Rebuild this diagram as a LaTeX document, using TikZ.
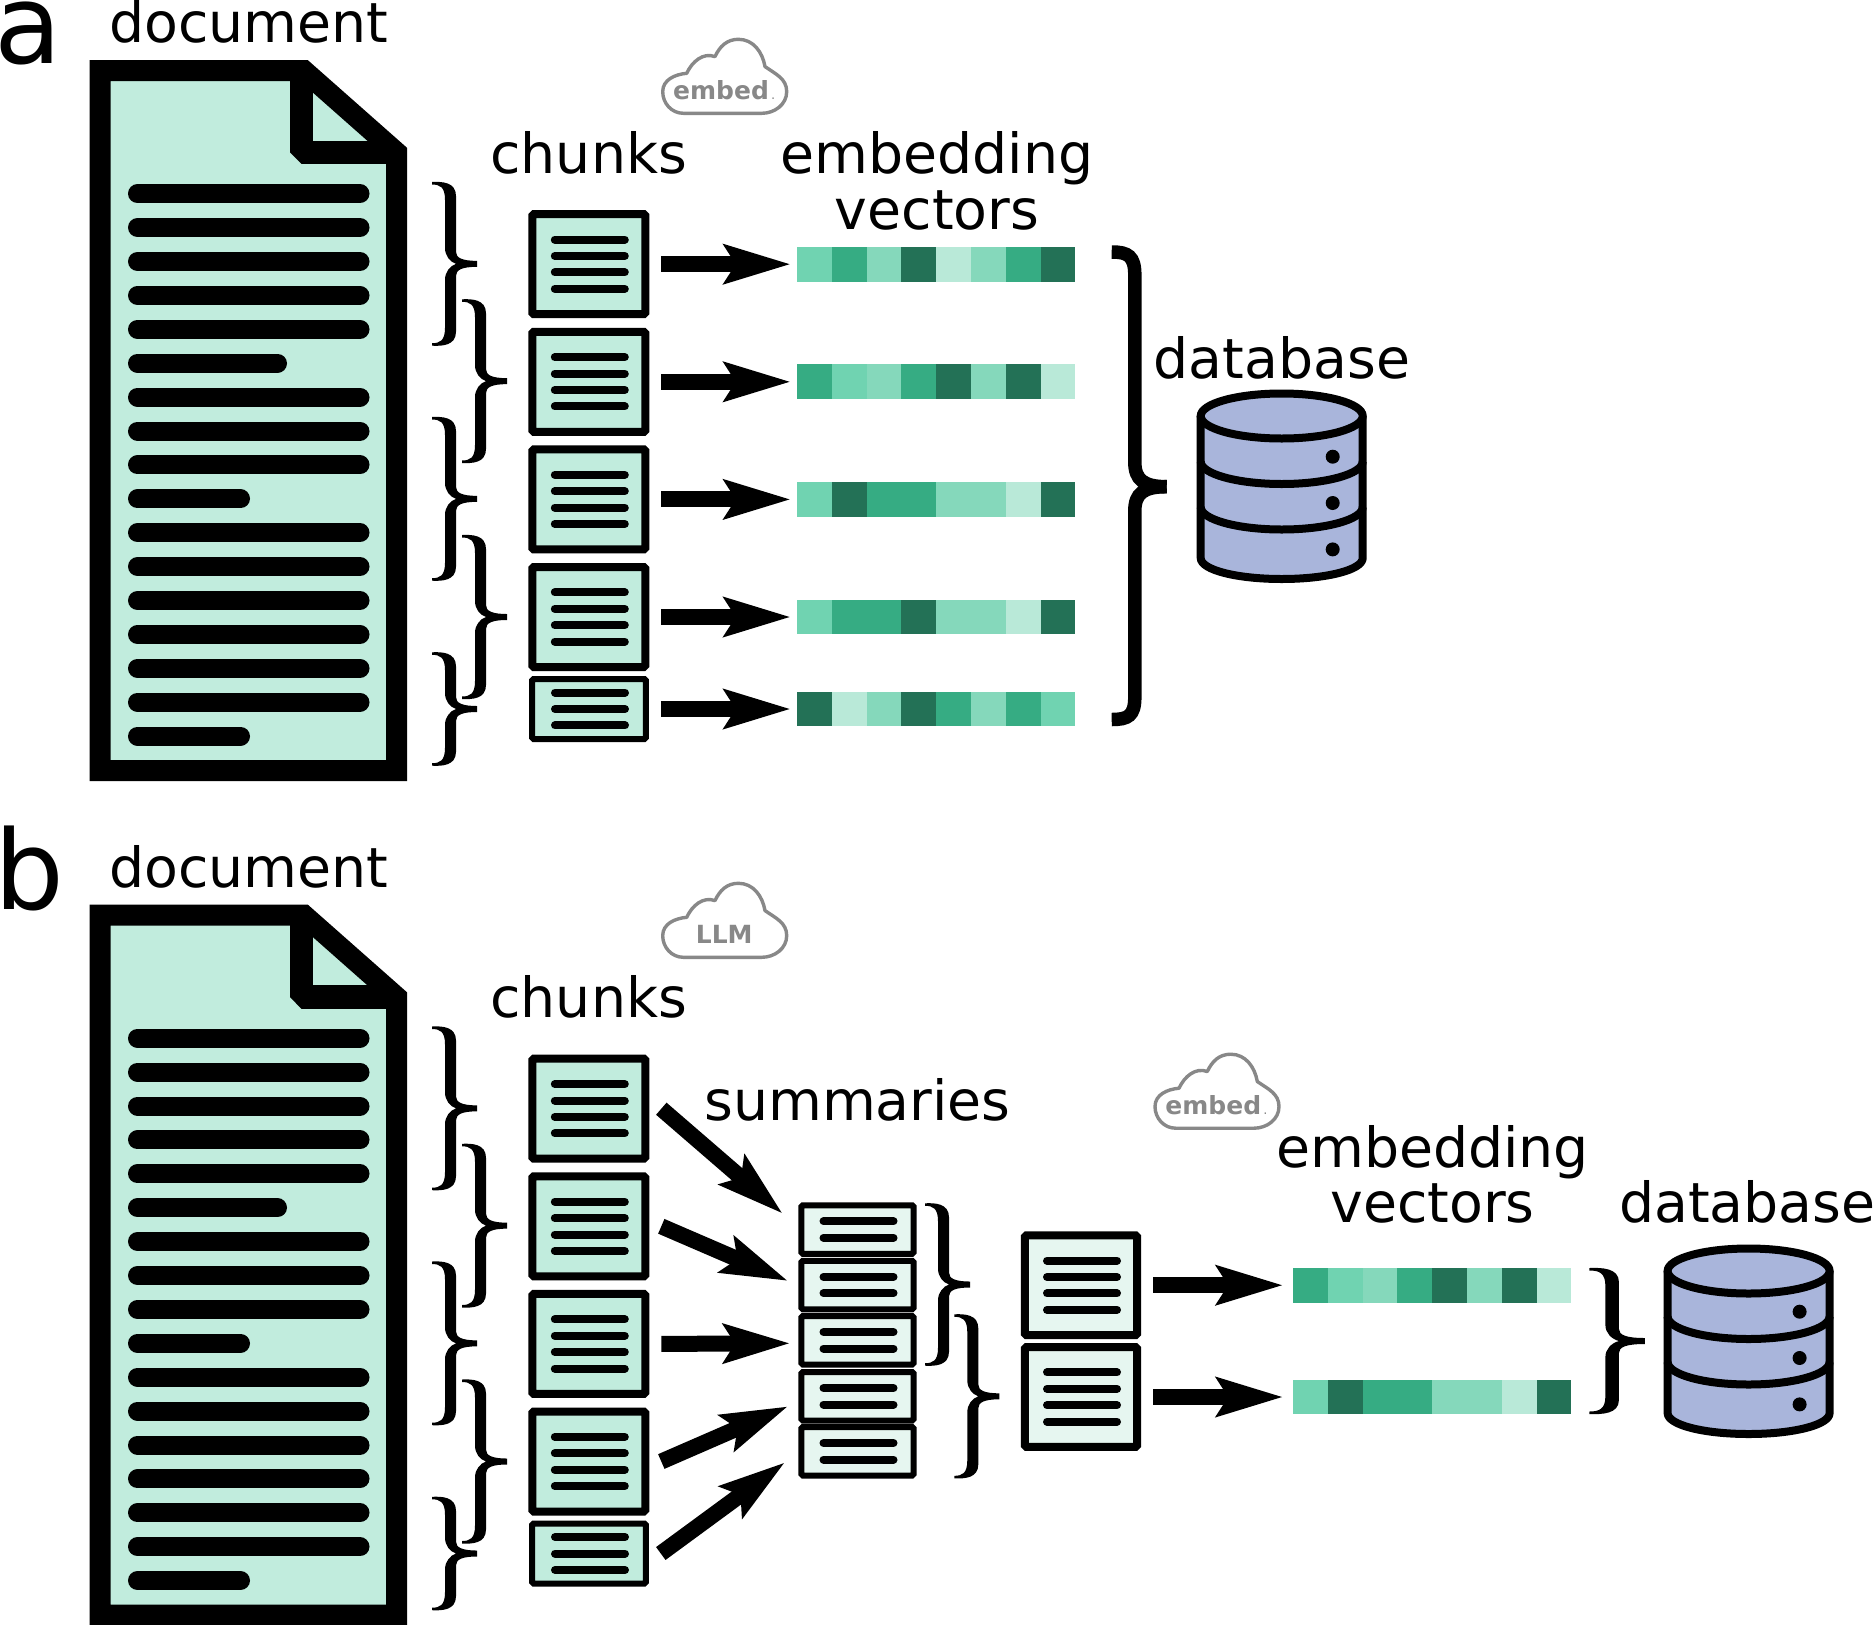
\documentclass[tikz,border=0pt]{standalone}
\usepackage{fontspec}
\setmainfont{DejaVu Sans}
\usetikzlibrary{arrows.meta}

\definecolor{pagegreen}{HTML}{C1ECDD}
\definecolor{summarygreen}{HTML}{E6F6F0}
\definecolor{dbblue}{HTML}{A9B5DB}
\definecolor{cloudgrey}{HTML}{888888}
\definecolor{vdark}{HTML}{237156}
\definecolor{vmid}{HTML}{36AC83}
\definecolor{vlight}{HTML}{70D3B1}
\definecolor{vpale}{HTML}{85D8BB}
\definecolor{vfaint}{HTML}{B9E9D8}

\newcommand{\paperlines}[2]{\foreach \dy in {#2} \draw[textline] ([shift={(-34,\dy)}]#1.center) -- ([shift={(36,\dy)}]#1.center);}
\newcommand{\embedrow}[4]{\foreach \c [count=\i] in {#4} \node[vcell, fill=\c] (#1-\i) at ({#2+34.8*(\i-0.5)},#3) {};}
\newcommand{\dbband}[1]{(-81,#1) .. controls (-81,#1+12.4) and (-44.6,#1+22.5) .. (0,#1+22.5) .. controls (44.6,#1+22.5) and (81,#1+12.4) .. (81,#1)}

\tikzset{
  biglabel/.style={font=\fontsize{55.3}{55.5}\selectfont, anchor=base, inner sep=0pt, align=center},
  panelmark/.style={font=\fontsize{110}{110}\selectfont, anchor=base west, inner sep=0pt},
  chunkbox/.style={draw, fill=pagegreen, line width=8pt, rounded corners=1.5pt, minimum width=113pt, minimum height=100pt},
  endchunk/.style={chunkbox, line width=6pt, minimum width=113.6pt, minimum height=60pt},
  summarybox/.style={draw, fill=summarygreen, line width=6pt, rounded corners=1.5pt, minimum width=112.3pt, minimum height=48.5pt},
  mergedbox/.style={chunkbox, fill=summarygreen, minimum width=112.4pt, minimum height=99.6pt},
  textline/.style={line width=8pt, line cap=round},
  vcell/.style={minimum size=34.8pt, inner sep=0pt, outer sep=0pt},
  bigarrow/.style={line width=16pt, -{Stealth[length=66pt,width=38pt,inset=11pt]}},
  pics/document/.style={code={
      \draw[line width=21pt, fill=pagegreen, line join=miter] (100,70.5) -- (303.7,70.5) -- (396.5,152.5) -- (396.5,770.5) -- (100,770.5) -- cycle;
      \draw[line width=23.5pt, line join=bevel] (301.5,70.5) -- (301.5,152.5) -- (396.5,152.5);
      \foreach \n/\xe in {0/360,1/360,2/360,3/360,4/360,5/277.5,6/360,7/360,8/360,9/240.5,10/360,11/360,12/360,13/360,14/360,15/360,16/240.5}
        \draw[line width=19pt, line cap=round] (137.5,193.7+33.9*\n) -- (\xe,193.7+33.9*\n);
  }},
  pics/curly/.style={code={
      \pgfmathsetmacro\mh{#1/2}
      \pgfmathsetmacro\hh{#1}
      \fill (0,0) .. controls (10,-0.5) and (24,0) .. (24,14) -- (24,\mh-12) .. controls (24,\mh-6) and (30,\mh-3) .. (45,\mh-3)
        -- (45,\mh+3) .. controls (30,\mh+3) and (24,\mh+6) .. (24,\mh+12) -- (24,\hh-14) .. controls (24,\hh) and (10,\hh+0.5) .. (0,\hh)
        -- (0,\hh-2.5) .. controls (8,\hh-2.5) and (13,\hh-5) .. (13,\hh-18) -- (13,\mh+16) .. controls (13,\mh+8) and (18,\mh+2) .. (24,\mh)
        .. controls (18,\mh-2) and (13,\mh-8) .. (13,\mh-16) -- (13,18) .. controls (13,5) and (8,2.5) .. (0,2.5) -- cycle;
  }},
  pics/database/.style={code={
      \fill[dbblue] (-81,0) -- \dbband{142} -- (81,0) -- cycle;
      \draw[line width=8pt, line join=round] (-81,0) -- (-81,142) .. controls (-81,154) and (-44.6,163) .. (0,163) .. controls (44.6,163) and (81,154) .. (81,142) -- (81,0);
      \draw[line width=8pt, fill=dbblue] (0,0) ellipse [x radius=81pt, y radius=22.5pt];
      \draw[line width=8pt] \dbband{45.5};
      \draw[line width=8pt] \dbband{91};
      \foreach \yd in {40.7,87,133.4}
        \fill (51,\yd) circle [radius=7pt];
  }},
  pics/servicecloud/.style={code={
      \draw[cloudgrey, line width=3.4pt, line join=round] (22.7,76) -- (101,76) to[out=0,in=-90] (126,54.3) to[out=90,in=-35] (104.3,29.3)
        to[out=100,in=0] (77.7,2) to[out=180,in=65] (54.3,19.3) to[out=160,in=65] (26,36) to[out=185,in=90] (2,54.3) to[out=-90,in=180] (22.7,76) -- cycle;
      \node[text=cloudgrey, inner sep=0pt, font=\fontsize{25}{25}\selectfont\bfseries] at (63.5,53) {#1};
  }},
}

\begin{document}
\begin{tikzpicture}[x=1pt,y=-1pt]
      \useasboundingbox (0,0) rectangle (1874,1625);

      \foreach \panel/\shifty/\mark/\marky in {a/0/a/63,b/844.5/b/909} {
        \node[panelmark] (mark\panel) at (-6,\marky) {\mark};
        \node[biglabel] (doclabel\panel) at (248.6,42.5+\shifty) {document};
        \node[biglabel] (chunklabel\panel) at (588.7,173+\shifty) {chunks};
        \pic at (0,\shifty) {document};
        \foreach \n/\cy in {1/264.2,2/381.8,3/499.4,4/617} {
          \node[chunkbox] (chunk\panel\n) at (588.8,\cy+\shifty) {};
          \paperlines{chunk\panel\n}{-24.6,-8.2,8.2,24.6}
        }
        \node[endchunk] (chunk\panel5) at (589,709+\shifty) {};
        \paperlines{chunk\panel5}{-16.4,0,16.4}
        \pic at (432,182+\shifty) {curly=163.7};
        \pic at (462,299.3+\shifty) {curly=163.7};
        \pic at (432,417+\shifty) {curly=163.7};
        \pic at (462,535+\shifty) {curly=164};
        \pic at (432,652.3+\shifty) {curly=113.4};
      }

      \pic at (660.7,37.3) {servicecloud={embed{\fontsize{13}{13}\selectfont\mdseries\,.}}};
      \node[biglabel] (veclabela) at (937,229) {embedding\\vectors};
      \embedrow{veca1}{797}{264.2}{vlight,vmid,vpale,vdark,vfaint,vpale,vmid,vdark}
      \embedrow{veca2}{797}{381.8}{vmid,vlight,vpale,vmid,vdark,vpale,vdark,vfaint}
      \embedrow{veca3}{797}{499.4}{vlight,vdark,vmid,vmid,vpale,vpale,vfaint,vdark}
      \embedrow{veca4}{797}{617}{vlight,vmid,vmid,vdark,vpale,vpale,vfaint,vdark}
      \embedrow{veca5}{797}{709}{vdark,vfaint,vpale,vdark,vmid,vpale,vmid,vlight}
      \foreach \n in {1,...,5}
        \draw[bigarrow, shorten <=12pt, shorten >=6pt] (chunka\n.east) -- (veca\n-1.west);
      \draw[line width=13.5pt] (1111.7,252) .. controls (1128,252) and (1134.8,256) .. (1134.8,275) -- (1134.8,462) .. controls (1134.8,480) and (1144,486.7) .. (1166.7,486.7);
      \draw[line width=13.5pt] (1111.7,719.5) .. controls (1128,719.5) and (1134.8,716) .. (1134.8,697) -- (1134.8,511) .. controls (1134.8,493) and (1144,486.7) .. (1166.7,486.7);
      \node[biglabel] (dblabela) at (1282,378.3) {database};
      \pic at (1281.7,416) {database};

      \pic at (660.7,881.3) {servicecloud={LLM}};
      \node[biglabel] (sumlabel) at (857.5,1120.3) {summaries};
      \foreach \n/\cy in {1/1229.5,2/1285,3/1340.3,4/1396.3,5/1451.3} {
        \node[summarybox] (sum\n) at (857.5,\cy) {};
        \paperlines{sum\n}{-8.2,8.2}
      }
      \foreach \n/\dx/\dy in {1/-15.6/-15.8,2/-10.2/-4,3/-8/3,4/-10.2/10,5/-13.3/11}
        \draw[bigarrow] ([xshift=12pt]chunkb\n.east) -- ([shift={(\dx,\dy)}]sum\n.west);
      \pic at (925,1203.3) {curly=162.4};
      \pic at (954.3,1314.3) {curly=164};
      \node[mergedbox] (merged1) at (1081,1285.2) {};
      \paperlines{merged1}{-24.6,-8.2,8.2,24.6}
      \node[mergedbox] (merged2) at (1081,1397) {};
      \paperlines{merged2}{-24.6,-8.2,8.2,24.6}

      \pic at (1153,1052.2) {servicecloud={embed{\fontsize{13}{13}\selectfont\mdseries\,.}}};
      \node[biglabel] (veclabelb) at (1432.6,1222.5) {embedding\\vectors};
      \embedrow{vecb1}{1293}{1285.2}{vmid,vlight,vpale,vmid,vdark,vpale,vdark,vfaint}
      \embedrow{vecb2}{1293}{1397}{vlight,vdark,vmid,vmid,vpale,vpale,vfaint,vdark}
      \foreach \n in {1,2}
        \draw[bigarrow, shorten <=12pt, shorten >=9.6pt] (merged\n.east) -- (vecb\n-1.west);
      \pic[xscale=1.23] at (1589.4,1268) {curly=146};
      \node[biglabel] (dblabelb) at (1747.4,1222.5) {database};
      \pic at (1748.6,1271) {database};
\end{tikzpicture}
\end{document}
